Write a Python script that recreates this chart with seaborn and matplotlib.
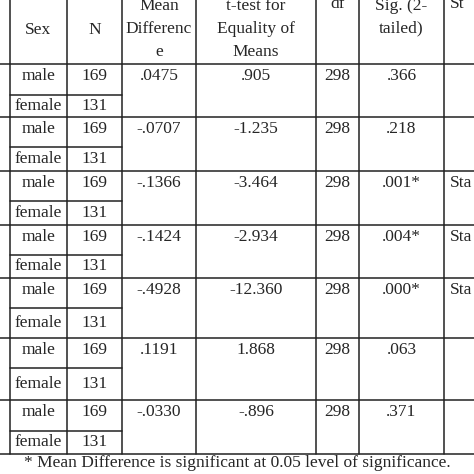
import matplotlib
matplotlib.use("Agg")
import matplotlib.pyplot as plt
import seaborn as sns

sns.set_theme(style="white")
plt.rcParams['font.family'] = ['Liberation Serif', 'DejaVu Serif']

sexes = ["male", "female"]
n_vals = ["169", "131"]
mean_diff = [".0475", "-.0707", "-.1366", "-.1424", "-.4928", ".1191", "-.0330"]
t_vals = [".905", "-1.235", "-3.464", "-2.934", "-12.360", "1.868", "-.896"]
df_vals = ["298"] * 7
sig_vals = [".366", ".218", ".001*", ".004*", ".000*", ".063", ".371"]
status = ["", "", "Sta", "Sta", "Sta", "", ""]
headers = ["Sex", "N", "Mean\nDifferenc\ne", "t-test for\nEquality of\nMeans", "df", "Sig. (2-\ntailed)", "St"]
footnote = "* Mean Difference is significant at 0.05 level of significance."

col_x = [10, 67, 122, 196, 316, 359, 444, 480]
group_y = [64, 117, 171, 225, 278, 338, 400, 454]
mid_y = [95, 147, 201, 255, 308, 368, 431]

fig = plt.figure(figsize=(4.74, 4.74), dpi=100)
ax = fig.add_axes([0, 0, 1, 1])
ax.set_xlim(0, 474)
ax.set_ylim(474, 0)
ax.axis('off')
lc = '#222222'
lw = 1.1
fs = 12.5

# vertical lines
for x in col_x[:-1]:
    ax.plot([x, x], [0, group_y[-1]], color=lc, lw=lw)
# horizontal group lines
for y in group_y:
    ax.plot([0, 474], [y, y], color=lc, lw=lw)
for y in mid_y:
    ax.plot([col_x[0], col_x[2]], [y, y], color=lc, lw=lw)

# headers
def cx(i):
    return (col_x[i] + col_x[i + 1]) / 2
hdr_y = [30, 30, 29, 29, 4, 17, 4]
for i, h in enumerate(headers):
    if i == 6:
        ax.text(450, hdr_y[i], h, ha='left', va='center', fontsize=fs, linespacing=1.55)
    else:
        ax.text(cx(i), hdr_y[i], h, ha='center', va='center', fontsize=fs, linespacing=1.55)

for g in range(7):
    top = group_y[g]
    ym = top + 12
    yf = (mid_y[g] + group_y[g + 1]) / 2
    ax.text(cx(0), ym, sexes[0], ha='center', va='center', fontsize=fs)
    ax.text(cx(0), yf, sexes[1], ha='center', va='center', fontsize=fs)
    ax.text(cx(1), ym, n_vals[0], ha='center', va='center', fontsize=fs)
    ax.text(cx(1), yf, n_vals[1], ha='center', va='center', fontsize=fs)
    ax.text(cx(2), ym, mean_diff[g], ha='center', va='center', fontsize=fs)
    ax.text(cx(3), ym, t_vals[g], ha='center', va='center', fontsize=fs)
    ax.text(cx(4), ym, df_vals[g], ha='center', va='center', fontsize=fs)
    ax.text(cx(5), ym, sig_vals[g], ha='center', va='center', fontsize=fs)
    if status[g]:
        ax.text(450, ym, status[g], ha='left', va='center', fontsize=fs)

ax.text(237, 463, footnote, ha='center', va='center', fontsize=fs)

fig.savefig("out.png", dpi=100)
